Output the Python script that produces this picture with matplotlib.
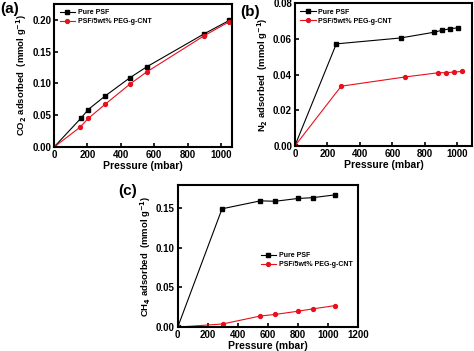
import matplotlib.pyplot as plt

# (a) CO2
co2_p_pure = [0, 160, 205, 305, 455, 555, 900, 1050]
co2_pure = [0, 0.045, 0.059, 0.080, 0.109, 0.126, 0.178, 0.199]
co2_p_cnt = [0, 155, 205, 305, 455, 555, 900, 1050]
co2_cnt = [0, 0.031, 0.045, 0.067, 0.099, 0.118, 0.175, 0.197]

# (b) N2
n2_p_pure = [0, 255, 650, 855, 905, 955, 1005]
n2_pure = [0, 0.0572, 0.0605, 0.0637, 0.0648, 0.0657, 0.0662]
n2_p_cnt = [0, 285, 680, 880, 930, 980, 1030]
n2_cnt = [0, 0.0335, 0.0387, 0.0410, 0.0411, 0.0414, 0.0418]

# (c) CH4
ch4_p = [0, 295, 550, 650, 800, 900, 1045]
ch4_pure = [0, 0.149, 0.159, 0.1585, 0.162, 0.163, 0.1665]
ch4_p_cnt = [0, 300, 550, 650, 800, 900, 1045]
ch4_cnt = [0, 0.004, 0.014, 0.016, 0.020, 0.023, 0.027]

labels = ['Pure PSF', 'PSF/5wt% PEG-g-CNT']
plt.rcParams['font.family'] = 'Liberation Sans'
plt.rcParams['font.weight'] = 'bold'
plt.rcParams['mathtext.default'] = 'bf'

fig = plt.figure(figsize=(4.74, 3.51), dpi=100)
ax_a = fig.add_axes([0.114, 0.581, 0.375, 0.408])
ax_b = fig.add_axes([0.622, 0.584, 0.374, 0.407])
ax_c = fig.add_axes([0.375, 0.068, 0.380, 0.405])


def style(ax, xlim, ylim, xticks, yticks, ylabel):
    ax.set_xlim(*xlim)
    ax.set_ylim(*ylim)
    ax.set_xticks(xticks)
    ax.set_yticks(yticks)
    ax.set_yticklabels(['{:.2f}'.format(v) for v in yticks])
    ax.tick_params(direction='in', length=3, width=1.2, labelsize=7, pad=2)
    for s in ax.spines.values():
        s.set_linewidth(1.5)
    ax.set_xlabel('Pressure (mbar)', fontsize=7.5, fontweight='bold', labelpad=1)
    ax.set_ylabel(ylabel, fontsize=6.8, fontweight='bold', labelpad=2)


def draw(ax, x1, y1, x2, y2, loc, anchor=None):
    ax.plot(x1, y1, '-s', color='black', lw=0.8, ms=2.8, label=labels[0])
    ax.plot(x2, y2, '-o', color='#e8101c', lw=0.8, ms=2.8, label=labels[1])
    kw = dict(loc=loc, frameon=False, fontsize=5, handlelength=2.2,
              handletextpad=0.4, labelspacing=0.3, borderpad=0.3)
    if anchor is not None:
        kw['bbox_to_anchor'] = anchor
    leg = ax.legend(**kw)
    for t in leg.get_texts():
        t.set_fontweight('bold')


draw(ax_a, co2_p_pure, co2_pure, co2_p_cnt, co2_cnt, 'upper left')
style(ax_a, (0, 1065), (0, 0.225), [0, 200, 400, 600, 800, 1000],
      [0, 0.05, 0.10, 0.15, 0.20],
      r'CO$_2$ adsorbed  (mmol g$^{-1}$)')

draw(ax_b, n2_p_pure, n2_pure, n2_p_cnt, n2_cnt, 'upper left')
style(ax_b, (0, 1090), (0, 0.08), [0, 200, 400, 600, 800, 1000],
      [0, 0.02, 0.04, 0.06, 0.08],
      r'N$_2$ adsorbed  (mmol g$^{-1}$)')

draw(ax_c, ch4_p, ch4_pure, ch4_p_cnt, ch4_cnt, 'center right', (1.0, 0.47))
style(ax_c, (0, 1200), (0, 0.179), [0, 200, 400, 600, 800, 1000, 1200],
      [0, 0.05, 0.10, 0.15],
      r'CH$_4$ adsorbed  (mmol g$^{-1}$)')

fig.text(0.0, 0.995, '(a)', fontsize=11, fontweight='bold', va='top')
fig.text(0.506, 0.985, '(b)', fontsize=11, fontweight='bold', va='top')
fig.text(0.25, 0.475, '(c)', fontsize=11, fontweight='bold', va='top')

fig.savefig('out.png', dpi=100)
